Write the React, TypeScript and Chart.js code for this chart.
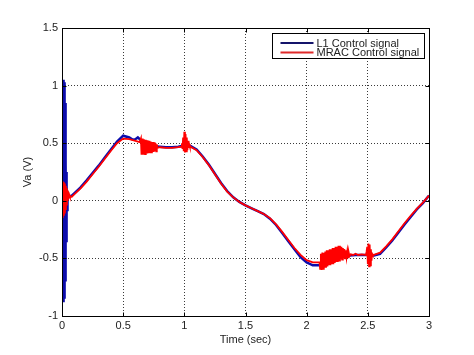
import React, { useEffect, useRef } from 'react';
import { Chart, registerables } from 'chart.js';

Chart.register(...registerables);

const FONT = '"Liberation Sans", Arial, Helvetica, sans-serif';

const xTickLabels = ['0', '0.5', '1', '1.5', '2', '2.5', '3'];
const yTickLabels = ['-1', '-0.5', '0', '0.5', '1', '1.5'];
const seriesNames = ['L1 Control signal', 'MRAC Control signal'];

// L1 control signal (time sec, Va volts)
const l1Start: [number, number][] = [
  [0, 0], [0.0015, 1.05], [0.003, -0.87], [0.0045, 1.05], [0.006, -0.87], [0.0075, 1.05],
  [0.009, -0.87], [0.0105, 1.05], [0.012, -0.86], [0.0135, 1.04], [0.015, -0.86], [0.0165, 1.03],
  [0.018, -0.85], [0.0195, 1.0], [0.021, -0.84], [0.0225, 0.95], [0.024, -0.8], [0.0255, 0.85],
  [0.027, -0.7], [0.0285, 0.6], [0.030, -0.55], [0.0315, 0.35], [0.033, -0.35], [0.0345, 0.25],
  [0.036, -0.3], [0.0375, 0.2], [0.039, -0.2], [0.0405, 0.12], [0.042, -0.08], [0.045, 0.06],
  [0.050, 0.035],
];
const l1Main: [number, number][] = [
  [0.06, 0.04], [0.08, 0.045], [0.1, 0.065], [0.15, 0.115], [0.2, 0.175], [0.25, 0.24],
  [0.3, 0.305], [0.35, 0.375], [0.4, 0.445], [0.45, 0.515], [0.5, 0.565], [0.55, 0.55],
  [0.58, 0.53], [0.6, 0.535], [0.62, 0.55], [0.65, 0.52], [0.7, 0.49], [0.75, 0.475],
  [0.8, 0.47], [0.85, 0.465], [0.9, 0.465], [0.95, 0.47], [1.0, 0.48], [1.05, 0.475],
  [1.1, 0.445], [1.15, 0.385], [1.2, 0.315], [1.25, 0.235], [1.3, 0.155], [1.35, 0.085],
  [1.4, 0.03], [1.45, -0.01], [1.5, -0.04], [1.55, -0.065], [1.6, -0.09], [1.65, -0.115],
  [1.7, -0.155], [1.75, -0.21], [1.8, -0.28], [1.85, -0.35], [1.9, -0.42], [1.95, -0.49],
  [2.0, -0.535], [2.05, -0.56], [2.1, -0.56], [2.15, -0.555], [2.2, -0.52], [2.25, -0.5],
  [2.3, -0.485], [2.35, -0.475], [2.4, -0.47], [2.45, -0.47], [2.5, -0.47], [2.55, -0.475],
  [2.6, -0.46], [2.65, -0.405], [2.7, -0.345], [2.75, -0.275], [2.8, -0.205], [2.85, -0.14],
  [2.9, -0.075], [2.95, -0.02], [3.0, 0.045],
];

// MRAC control signal
const mracStart: [number, number][] = [
  [0, 0], [0.004, 0.17], [0.008, -0.15], [0.012, 0.16], [0.016, -0.13], [0.020, 0.15],
  [0.024, -0.11], [0.028, 0.13], [0.032, -0.08], [0.036, 0.11], [0.040, -0.04], [0.044, 0.09],
  [0.048, 0.0], [0.052, 0.07], [0.056, 0.02], [0.060, 0.05], [0.065, 0.035],
];
const mracRise: [number, number][] = [
  [0.08, 0.035], [0.1, 0.055], [0.15, 0.105], [0.2, 0.165], [0.25, 0.23], [0.3, 0.295],
  [0.35, 0.365], [0.4, 0.435], [0.45, 0.5], [0.5, 0.54], [0.55, 0.535], [0.6, 0.52], [0.635, 0.51],
];
const mracBurst1: [number, number][] = [
  [0.645, 0.54], [0.65, 0.40], [0.655, 0.54], [0.66, 0.40], [0.665, 0.535], [0.67, 0.40],
  [0.675, 0.53], [0.68, 0.405], [0.685, 0.53], [0.69, 0.41], [0.695, 0.525], [0.70, 0.41],
  [0.705, 0.52], [0.71, 0.415], [0.715, 0.52], [0.72, 0.42], [0.725, 0.515], [0.73, 0.42],
  [0.735, 0.51], [0.74, 0.425], [0.745, 0.51], [0.75, 0.425], [0.755, 0.505], [0.76, 0.43],
  [0.765, 0.50], [0.77, 0.43], [0.775, 0.49], [0.78, 0.46],
];
const mracPlateau1: [number, number][] = [
  [0.8, 0.465], [0.85, 0.46], [0.9, 0.46], [0.95, 0.465], [0.975, 0.47],
];
const mracSpike1: [number, number][] = [
  [0.98, 0.50], [0.985, 0.45], [0.99, 0.55], [0.995, 0.43], [1.0, 0.60], [1.005, 0.42],
  [1.01, 0.58], [1.015, 0.43], [1.02, 0.55], [1.025, 0.44], [1.03, 0.52], [1.035, 0.46],
  [1.04, 0.49], [1.045, 0.47],
];
const mracFall: [number, number][] = [
  [1.05, 0.47], [1.1, 0.44], [1.15, 0.38], [1.2, 0.31], [1.25, 0.23], [1.3, 0.15],
  [1.35, 0.08], [1.4, 0.03], [1.45, -0.01], [1.5, -0.04], [1.55, -0.065], [1.6, -0.09],
  [1.65, -0.115], [1.7, -0.15], [1.75, -0.205], [1.8, -0.27], [1.85, -0.34], [1.9, -0.41],
  [1.95, -0.47], [2.0, -0.515], [2.05, -0.535], [2.105, -0.535],
];
const mracBurst2: [number, number][] = [
  [2.110, -0.59], [2.116, -0.46], [2.122, -0.60], [2.128, -0.45], [2.134, -0.59], [2.140, -0.45],
  [2.146, -0.58], [2.152, -0.44], [2.158, -0.58], [2.164, -0.43], [2.170, -0.57], [2.176, -0.43],
  [2.182, -0.56], [2.188, -0.42], [2.194, -0.56], [2.200, -0.42], [2.206, -0.55], [2.212, -0.41],
  [2.218, -0.55], [2.224, -0.41], [2.230, -0.54], [2.236, -0.40], [2.242, -0.53], [2.248, -0.40],
  [2.254, -0.53], [2.260, -0.39], [2.266, -0.52], [2.272, -0.39], [2.278, -0.51], [2.284, -0.40],
  [2.290, -0.51], [2.296, -0.41], [2.302, -0.50], [2.308, -0.42], [2.314, -0.50], [2.320, -0.43],
  [2.326, -0.49], [2.332, -0.44], [2.338, -0.49], [2.344, -0.45], [2.350, -0.48],
];
const mracPlateau2: [number, number][] = [
  [2.36, -0.465], [2.38, -0.47], [2.40, -0.46], [2.42, -0.47], [2.45, -0.465], [2.485, -0.47],
];
const mracSpike2: [number, number][] = [
  [2.49, -0.44], [2.495, -0.40], [2.5, -0.55], [2.505, -0.37], [2.51, -0.57], [2.515, -0.38],
  [2.52, -0.56], [2.525, -0.42], [2.53, -0.52], [2.535, -0.46], [2.54, -0.47],
];
const mracRecover: [number, number][] = [
  [2.55, -0.47], [2.6, -0.45], [2.65, -0.395], [2.7, -0.335], [2.75, -0.265], [2.8, -0.195],
  [2.85, -0.13], [2.9, -0.07], [2.95, -0.015], [3.0, 0.045],
];

const l1Series = [...l1Start, ...l1Main];
const mracSeries = [
  ...mracStart, ...mracRise, ...mracBurst1, ...mracPlateau1, ...mracSpike1,
  ...mracFall, ...mracBurst2, ...mracPlateau2, ...mracSpike2, ...mracRecover,
];

const BLUE = '#0c0cac';
const RED = '#ff0000';
const TEXT = '#222222';

const matlabPlugin = {
  id: 'matlabBox',
  afterDatasetsDraw(chart: any) {
    const { ctx, chartArea: a, scales } = chart;
    ctx.save();
    ctx.strokeStyle = '#000';
    ctx.lineWidth = 1;
    ctx.setLineDash([]);
    const L = Math.round(a.left) + 0.5;
    const T = Math.round(a.top) + 0.5;
    const R = Math.round(a.right) + 0.5;
    const B = Math.round(a.bottom) + 0.5;
    ctx.strokeRect(L, T, R - L, B - T);
    const tl = 4;
    ctx.beginPath();
    scales.x.ticks.forEach((t: any) => {
      const px = Math.round(scales.x.getPixelForValue(t.value)) + 0.5;
      ctx.moveTo(px, B); ctx.lineTo(px, B - tl);
      ctx.moveTo(px, T); ctx.lineTo(px, T + tl);
    });
    scales.y.ticks.forEach((t: any) => {
      const py = Math.round(scales.y.getPixelForValue(t.value)) + 0.5;
      ctx.moveTo(L, py); ctx.lineTo(L + tl, py);
      ctx.moveTo(R, py); ctx.lineTo(R - tl, py);
    });
    ctx.stroke();

    const bw = 152;
    const bh = 25;
    const bx = Math.round(a.right) - 5 - bw + 0.5;
    const by = Math.round(a.top) + 5 + 0.5;
    ctx.fillStyle = '#fff';
    ctx.fillRect(bx, by, bw, bh);
    ctx.strokeRect(bx, by, bw, bh);
    ctx.font = `11px ${FONT}`;
    ctx.textBaseline = 'middle';
    ctx.textAlign = 'left';
    chart.data.datasets.forEach((ds: any, i: number) => {
      const y = by + 9.5 + i * 9.6;
      ctx.strokeStyle = ds.legendColor || ds.borderColor;
      ctx.lineWidth = 2;
      ctx.beginPath();
      ctx.moveTo(bx + 8, y);
      ctx.lineTo(bx + 41, y);
      ctx.stroke();
      ctx.fillStyle = TEXT;
      ctx.fillText(ds.label, bx + 44, y + 0.5);
    });
    ctx.restore();
  },
};

export default function App() {
  const ref = useRef<HTMLCanvasElement>(null);

  useEffect(() => {
    if (!ref.current) return;
    const chart = new Chart(ref.current, {
      type: 'line',
      data: {
        datasets: [
          {
            label: seriesNames[0],
            data: l1Series.map(([x, y]) => ({ x, y })),
            borderColor: BLUE,
            legendColor: '#14146a',
            borderWidth: 2.5,
            pointRadius: 0,
            tension: 0,
            fill: false,
            order: 2,
          } as any,
          {
            label: seriesNames[1],
            data: mracSeries.map(([x, y]) => ({ x, y })),
            borderColor: RED,
            legendColor: '#e02a2a',
            borderWidth: 1.8,
            pointRadius: 0,
            tension: 0,
            fill: false,
            order: 1,
          } as any,
        ],
      },
      plugins: [matlabPlugin],
      options: {
        animation: false,
        responsive: false,
        devicePixelRatio: 1,
        events: [],
        layout: { padding: { top: 28, right: 45, left: 0, bottom: 0 } },
        plugins: {
          legend: { display: false },
          tooltip: { enabled: false },
        },
        scales: {
          x: {
            type: 'linear',
            min: 0,
            max: 3,
            afterFit: (s: any) => { s.height = 39; },
            ticks: {
              stepSize: 0.5,
              autoSkip: false,
              maxRotation: 0,
              padding: 3,
              color: TEXT,
              font: { family: FONT, size: 11 },
              callback: (v: any) => xTickLabels.find((l) => parseFloat(l) === Number(v)) ?? '',
            },
            grid: { color: '#3a3a3a', lineWidth: 1, drawTicks: false },
            border: { display: false, dash: [1, 2] },
            title: {
              display: true,
              text: 'Time (sec)',
              color: TEXT,
              font: { family: FONT, size: 11 },
              padding: { top: 0, bottom: 8.5 },
            },
          },
          y: {
            type: 'linear',
            min: -1,
            max: 1.5,
            afterFit: (s: any) => { s.width = 62; },
            ticks: {
              stepSize: 0.5,
              autoSkip: false,
              padding: 4,
              color: TEXT,
              font: { family: FONT, size: 11 },
              callback: (v: any) => yTickLabels.find((l) => parseFloat(l) === Number(v)) ?? '',
            },
            grid: { color: '#3a3a3a', lineWidth: 1, drawTicks: false },
            border: { display: false, dash: [1, 2] },
            title: {
              display: true,
              text: 'Va (V)',
              color: TEXT,
              font: { family: FONT, size: 11 },
              padding: { top: 21, bottom: 0 },
            },
          },
        },
      },
    });
    return () => chart.destroy();
  }, []);

  return (
    <div style={{ position: 'absolute', left: 0, top: 0, width: 474, height: 355, background: '#fff' }}>
      <canvas ref={ref} width={474} height={355} style={{ display: 'block' }} />
    </div>
  );
}
